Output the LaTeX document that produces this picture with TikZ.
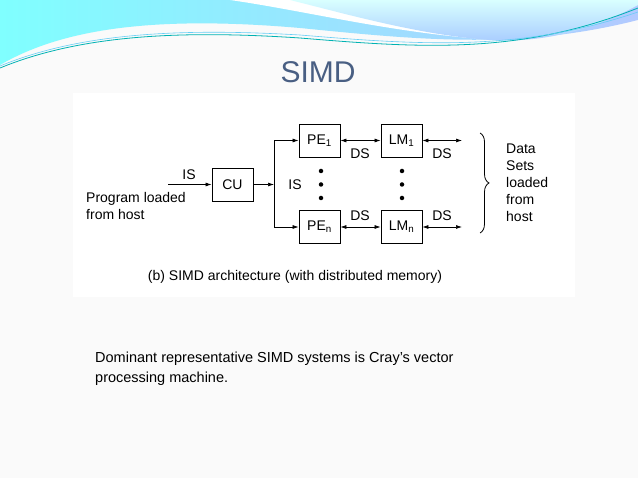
\documentclass[tikz,border=0pt]{standalone}
\usepackage{fontspec}
\setmainfont{Liberation Sans}
\usetikzlibrary{arrows.meta,decorations.pathreplacing}
\begin{document}
\begin{tikzpicture}[x=1pt,y=-1pt,
  box/.style={draw,line width=0.8pt,minimum width=41pt,minimum height=33pt,inner sep=0pt,font=\fontsize{14}{14}\selectfont},
  lbl/.style={font=\fontsize{14}{14}\selectfont,inner sep=0pt},
  arr/.style={line width=0.7pt,-{Latex[length=6pt,width=4pt]}},
  darr/.style={line width=0.7pt,{Latex[length=6pt,width=4pt]}-{Latex[length=6pt,width=4pt]}},
  dot/.style={circle,fill,inner sep=0pt,minimum size=4.5pt}]
\useasboundingbox (0,0) rectangle (638,478);
\fill[white!96!gray] (0,0) rectangle (638,478);
% header waves
\shade[left color=cyan!50!white,right color=cyan!30!blue!30!white] (0,0) -- (638,0) -- (638,20) .. controls (520,50) and (420,40) .. (300,28) .. controls (150,15) and (60,30) .. (0,65) -- cycle;
\fill[white] (230,0) .. controls (300,10) and (380,30) .. (470,38) .. controls (560,44) and (610,20) .. (638,2) -- (638,0) -- cycle;
\shade[top color=cyan!15!white,bottom color=cyan!40!blue!35!white] (290,0) .. controls (350,15) and (420,35) .. (490,40) .. controls (560,44) and (610,20) .. (638,5) -- (638,0) -- cycle;
\draw[teal!60!cyan,line width=0.8pt] (0,68) .. controls (80,35) and (180,30) .. (300,38) .. controls (420,48) and (520,55) .. (638,8);
\draw[cyan!60,line width=0.6pt] (0,66) .. controls (80,33) and (180,28) .. (300,35) .. controls (420,45) and (520,52) .. (638,12);
\node[text=cyan!50!blue!55!black,font=\fontsize{30}{30}\selectfont,inner sep=0pt] (title) at (318,72) {SIMD};
% panel
\fill[white] (73,93) rectangle (575,297);
\node[box] (pe1) at (319.5,140.5) {PE\textsubscript{1}};
\node[box] (lm1) at (401.5,140.5) {LM\textsubscript{1}};
\node[box] (pen) at (319.5,227) {PE\textsubscript{n}};
\node[box] (lmn) at (401.5,227) {LM\textsubscript{n}};
\node[box] (cu) at (232.5,184.5) {CU};
\coordinate (in) at (168,184.5);
\coordinate (br) at (274,184.5);
\coordinate (o1) at (462,140.5);
\coordinate (on) at (462,227);
\draw[arr] (in) -- (cu);
\draw[arr] (cu) -- (br);
\draw[arr] (br) |- (pe1);
\draw[arr] (br) |- (pen);
\draw[darr] (pe1) -- (lm1);
\draw[darr] (pen) -- (lmn);
\draw[darr] (lm1) -- (o1);
\draw[darr] (lmn) -- (on);
\node[lbl] (is1) at (189,175) {IS};
\node[lbl] (is2) at (295,185) {IS};
\node[lbl] (ds1) at (360,154) {DS};
\node[lbl] (ds2) at (442,154) {DS};
\node[lbl] (ds3) at (360,216) {DS};
\node[lbl] (ds4) at (442,216) {DS};
\node[lbl,align=left,anchor=north west,font=\fontsize{14}{17}\selectfont] (prog) at (86,192) {Program loaded\\from host};
\foreach \yy [count=\i] in {171,184.5,198}{
  \node[dot] (pd\i) at (321,\yy) {};
  \node[dot] (ld\i) at (402,\yy) {};}
\draw[line width=0.8pt,decorate,decoration={brace,amplitude=9pt}] (480,133) -- (480,233);
\node[lbl,align=left,anchor=west,font=\fontsize{14}{17}\selectfont] (data) at (506,183) {Data\\Sets\\loaded\\from\\host};
\node[lbl] (cap) at (295,277) {(b) SIMD architecture (with distributed memory)};
\node[anchor=north west,align=left,inner sep=0pt,font=\fontsize{14.5}{20}\selectfont] (txt) at (95,352) {Dominant representative SIMD systems is Cray’s vector\\processing machine.};
\end{tikzpicture}
\end{document}
